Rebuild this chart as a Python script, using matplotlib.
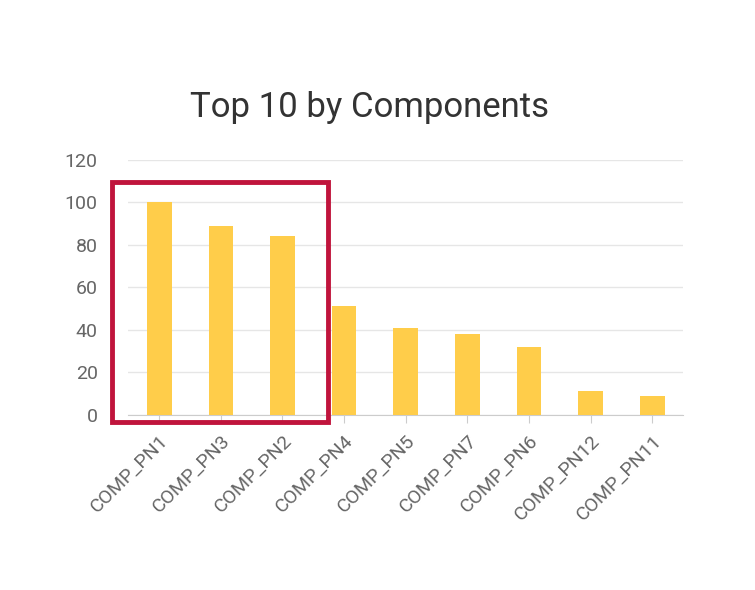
import matplotlib.pyplot as plt
from matplotlib.patches import Rectangle

components = ["COMP_PN1", "COMP_PN3", "COMP_PN2", "COMP_PN4", "COMP_PN5",
              "COMP_PN7", "COMP_PN6", "COMP_PN12", "COMP_PN11"]
counts = [100, 89, 84, 51, 41, 38, 32, 11, 9]
y_ticks = [0, 20, 40, 60, 80, 100, 120]

plt.rcParams['font.family'] = ['Roboto', 'DejaVu Sans']

fig = plt.figure(figsize=(7.55, 5.9), dpi=100)
ax = fig.add_axes([0.170, 0.297, 0.735, 0.432])

ax.bar(range(len(components)), counts, width=0.4, color="#FFCD4A", zorder=3)
ax.set_xlim(-0.5, len(components) - 0.5)
ax.set_ylim(0, 120)
ax.set_yticks(y_ticks)
ax.set_xticks(range(len(components)))
ax.set_xticklabels(components, rotation=45, ha="right", rotation_mode="anchor")
ax.tick_params(axis="both", colors="#666666", labelsize=14, length=0)
ax.tick_params(axis="y", pad=22)
ax.tick_params(axis="x", length=6, color="#cccccc", direction="out", pad=6)
ax.grid(axis="y", color="#e6e6e6", linewidth=1, zorder=0)
for side in ["top", "right", "left"]:
    ax.spines[side].set_visible(False)
ax.spines["bottom"].set_color("#cccccc")

fig.text(0.49, 0.818, "Top 10 by Components", ha="center", va="center",
         fontsize=25, color="#333333")

# highlight box around the top three
fig.patches.append(Rectangle((112 / 755, 1 - 422 / 590), 216 / 755, 240 / 590,
                             transform=fig.transFigure, fill=False,
                             edgecolor="#C0143C", linewidth=3.5))

fig.savefig("out.png", dpi=100)
